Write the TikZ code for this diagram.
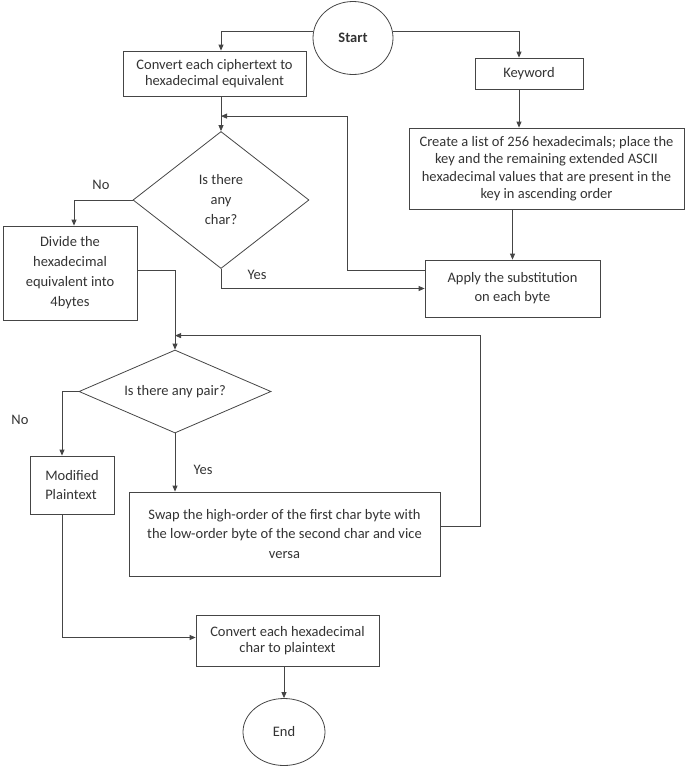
\documentclass[tikz,border=0pt]{standalone}
\usepackage{fontspec}
\setmainfont{Carlito}
\usepackage{xcolor}
\usetikzlibrary{arrows.meta,positioning,shapes.geometric,calc}
\definecolor{ink}{HTML}{333333}
\definecolor{edge}{HTML}{454545}
\tikzset{
  procbox/.style={
    rectangle, draw=edge, line width=0.8pt,
    font=\fontsize{14.5}{19}\selectfont, text=ink, align=center,
    inner sep=3pt
  },
  decision/.style={
    diamond, draw=edge, line width=0.8pt,
    font=\fontsize{14.5}{20}\selectfont, text=ink, align=center,
    inner sep=1pt
  },
  terminal/.style={
    ellipse, draw=edge, line width=0.8pt,
    font=\fontsize{14.5}{16}\selectfont, text=ink
  },
  flowarrow/.style={
    -{Triangle[length=6pt,width=5pt]}, line width=0.8pt, color=edge
  },
  labelnode/.style={
    font=\fontsize{14.5}{16}\selectfont, text=ink
  },
}
\begin{document}
\begin{tikzpicture}[x=1pt,y=-1pt]
  \useasboundingbox (0,0) rectangle (685,769);
  % top row
  \node[terminal, minimum width=80pt, minimum height=73pt, font=\fontsize{14.5}{16}\selectfont\bfseries] (start) at (353,38) {Start};
  \node[procbox, minimum width=183pt, minimum height=45pt, font=\fontsize{14.5}{16.5}\selectfont] (conv-hex) at (214.5,73.5) {Convert each ciphertext to\\hexadecimal equivalent};
  \node[procbox, minimum width=108pt, minimum height=31pt] (keyword) at (529,73.5) {Keyword};
  \node[procbox, minimum width=275pt, minimum height=81pt, font=\fontsize{14.5}{17.5}\selectfont] (make-list) at (546.5,168.5) {Create a list of 256 hexadecimals; place the\\key and the remaining extended ASCII\\hexadecimal values that are present in the\\key in ascending order};
  % first loop
  \node[decision, aspect=1.28, minimum width=176pt, minimum height=137pt] (any-char) at (221,200) {Is there\\any\\char?};
  \node[procbox, minimum width=175pt, minimum height=57pt] (substitute) at (512.5,288.5) {Apply the substitution\\on each byte};
  \node[procbox, minimum width=134pt, minimum height=94pt, font=\fontsize{14.5}{20}\selectfont] (divide) at (70,273) {Divide the\\hexadecimal\\equivalent into\\4bytes};
  % second loop
  \node[decision, aspect=2.3, minimum width=192pt, minimum height=83pt] (any-pair) at (175,391.5) {Is there any pair?};
  \node[procbox, minimum width=84pt, minimum height=58pt, align=left] (modified) at (72,485) {Modified\\Plaintext};
  \node[procbox, minimum width=311pt, minimum height=84pt, font=\fontsize{14.5}{19.5}\selectfont] (swap) at (284.5,534) {Swap the high-order of the first char byte with\\the low-order byte of the second char and vice\\versa};
  % bottom
  \node[procbox, minimum width=183pt, minimum height=51pt, font=\fontsize{14.5}{16.5}\selectfont] (conv-plain) at (287.5,640.5) {Convert each hexadecimal\\char to plaintext};
  \node[terminal, minimum width=82pt, minimum height=67pt] (end) at (284,732) {End};
  \coordinate (loop-char) at ([yshift=15pt]any-char.north);
  \coordinate (loop-pair) at ([yshift=14pt]any-pair.north);

  \draw[flowarrow] (start.170) -| (conv-hex.north -| any-char.north);
  \draw[flowarrow] (start.10) -| ([xshift=-10pt]keyword.north);
  \draw[flowarrow] (conv-hex.south -| any-char.north) -- (any-char.north);
  \draw[flowarrow] ([xshift=-10pt]keyword.south) -- ([xshift=-10pt]keyword.south |- make-list.north);
  \draw[flowarrow] (make-list.south -| substitute.north) -- (substitute.north);
  \draw[flowarrow] ([yshift=18pt]substitute.west) -- ++(-77,0) |- (loop-char);
  \draw[flowarrow] (any-char.west) -| ([xshift=4pt]divide.north);
  \draw[flowarrow] (any-char.south) |- (substitute.west);
  \node[labelnode] (no-char) at (101,185) {No};
  \node[labelnode] (yes-char) at (257,275) {Yes};
  \draw[flowarrow] ([yshift=3pt]divide.east) -| (any-pair.north);
  \draw[flowarrow] ([yshift=8pt]swap.east) -- ++(40,0) |- (loop-pair);
  \draw[flowarrow] (any-pair.west) -| ([xshift=-10pt]modified.north);
  \draw[flowarrow] (any-pair.south) -- (any-pair.south |- swap.north);
  \node[labelnode] (no-pair) at (20,420) {No};
  \node[labelnode] (yes-pair) at (203,470) {Yes};
  \draw[flowarrow] ([xshift=-10pt]modified.south) |- ([yshift=3pt]conv-plain.west);
  \draw[flowarrow] (conv-plain.south -| end.north) -- (end.north);
\end{tikzpicture}
\end{document}
